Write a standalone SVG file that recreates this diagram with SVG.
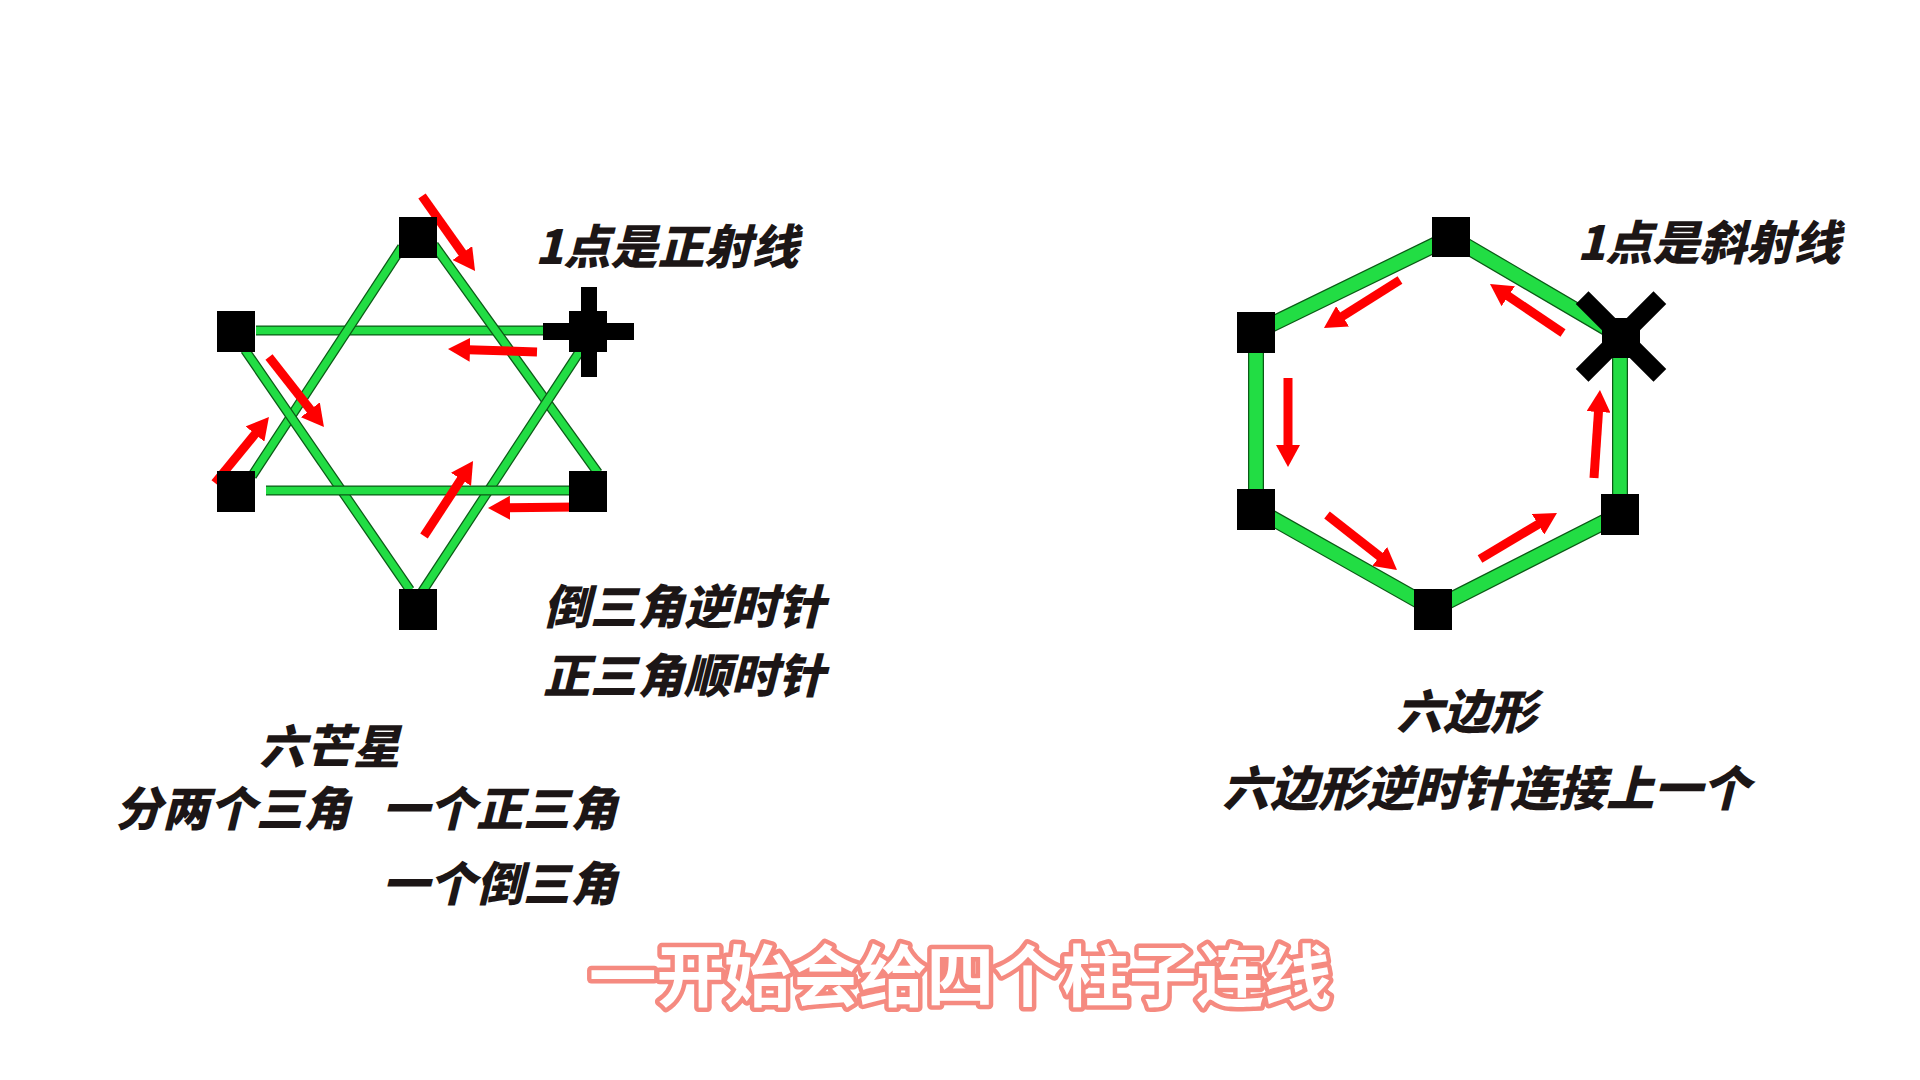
<svg xmlns="http://www.w3.org/2000/svg" width="1920" height="1080" viewBox="0 0 1920 1080">
<defs>
<marker id="ah" viewBox="0 0 22 24" markerUnits="userSpaceOnUse" markerWidth="22" markerHeight="24" refX="2" refY="12" orient="auto">
<path d="M0,0 L22,12 L0,24 z" fill="#ff0000"/>
</marker>
<style>
.gs{stroke:#0b5a16;stroke-width:10;fill:none}
.g{stroke:#22dd44;stroke-width:7.5;fill:none}
.hs{stroke:#0b5a16;stroke-width:16;fill:none}
.h{stroke:#22dd44;stroke-width:13.5;fill:none}
.arr{stroke:#ff0000;stroke-width:9;fill:none;marker-end:url(#ah)}
.sq{fill:#000}
.t{font-family:"Noto Sans CJK SC","Noto Sans",sans-serif;font-weight:900;font-style:italic;font-size:47px;fill:#1c1616}
.t48{font-size:48px}
.sub{font-family:"Noto Sans CJK SC","Noto Sans",sans-serif;font-weight:bold;font-size:67.5px;fill:#ffffff;stroke:#f58a80;stroke-width:9;stroke-linejoin:round;paint-order:stroke}
</style>
</defs>
<rect width="1920" height="1080" fill="#ffffff"/>

<g id="connectors">
<!-- star lines -->
<line class="gs" x1="256" y1="330.5" x2="545" y2="330.5"/><line class="g" x1="256" y1="330.5" x2="545" y2="330.5"/>
<line class="gs" x1="402" y1="247" x2="252" y2="476"/><line class="g" x1="402" y1="247" x2="252" y2="476"/>
<line class="gs" x1="434" y1="245" x2="598" y2="473"/><line class="g" x1="434" y1="245" x2="598" y2="473"/>
<line class="gs" x1="245" y1="350" x2="410" y2="590"/><line class="g" x1="245" y1="350" x2="410" y2="590"/>
<line class="gs" x1="582" y1="348" x2="422" y2="592"/><line class="g" x1="582" y1="348" x2="422" y2="592"/>
<line class="gs" x1="266" y1="490.5" x2="570" y2="490.5"/><line class="g" x1="266" y1="490.5" x2="570" y2="490.5"/>
<!-- hexagon edges -->
<polygon class="hs" points="1451,237 1256,332 1256,509 1433,609 1620,514 1620,336"/>
<polygon class="h" points="1451,237 1256,332 1256,509 1433,609 1620,514 1620,336"/>
<!-- star arrows -->
<line class="arr" x1="422" y1="196" x2="463.5" y2="254.7"/>
<line class="arr" x1="269" y1="357" x2="311.6" y2="411.3"/>
<line class="arr" x1="215" y1="483" x2="256.3" y2="432.5"/>
<line class="arr" x1="537" y1="352" x2="468" y2="349.7"/>
<line class="arr" x1="424" y1="536" x2="462.1" y2="477.7"/>
<line class="arr" x1="577" y1="507" x2="508" y2="507.8"/>
<!-- hexagon arrows -->
<line class="arr" x1="1400" y1="280" x2="1340.9" y2="317.3"/>
<line class="arr" x1="1288" y1="378" x2="1288" y2="447"/>
<line class="arr" x1="1327" y1="515" x2="1381.3" y2="557.6"/>
<line class="arr" x1="1480" y1="559" x2="1539.8" y2="523.3"/>
<line class="arr" x1="1594" y1="478" x2="1598.6" y2="410"/>
<line class="arr" x1="1563" y1="333" x2="1506.6" y2="295.1"/>
</g>

<g id="star-top"><rect class="sq" x="399" y="217" width="38" height="41"/></g>
<g id="star-left-upper"><rect class="sq" x="217" y="311" width="38" height="41"/></g>
<g id="star-left-lower"><rect class="sq" x="217" y="471" width="38" height="41"/></g>
<g id="star-right-lower"><rect class="sq" x="569" y="471" width="38" height="41"/></g>
<g id="star-bottom"><rect class="sq" x="399" y="589" width="38" height="41"/></g>
<g id="star-plus">
<rect class="sq" x="569" y="311" width="38" height="41"/>
<rect class="sq" x="581" y="287" width="16" height="90"/>
<rect class="sq" x="543" y="323" width="91" height="17"/>
</g>

<g id="hex-top"><rect class="sq" x="1432" y="217" width="38" height="40"/></g>
<g id="hex-left-upper"><rect class="sq" x="1237" y="312" width="38" height="41"/></g>
<g id="hex-left-lower"><rect class="sq" x="1237" y="489" width="38" height="41"/></g>
<g id="hex-bottom"><rect class="sq" x="1414" y="589" width="38" height="41"/></g>
<g id="hex-right-lower"><rect class="sq" x="1601" y="494" width="38" height="41"/></g>
<g id="hex-x">
<rect class="sq" x="1602" y="318" width="38" height="40"/>
<rect class="sq" x="1566" y="327.5" width="110" height="18" transform="rotate(45 1621 336.5)"/>
<rect class="sq" x="1566" y="327.5" width="110" height="18" transform="rotate(-45 1621 336.5)"/>
</g>

<g id="labels">
<text class="t" x="535" y="264">1点是正射线</text>
<text class="t" x="543" y="624">倒三角逆时针</text>
<text class="t" x="543" y="693">正三角顺时针</text>
<text class="t" x="259" y="764">六芒星</text>
<text class="t" x="115" y="826">分两个三角</text>
<text class="t" x="382" y="826">一个正三角</text>
<text class="t" x="382" y="901">一个倒三角</text>
<text class="t" x="1396" y="729">六边形</text>
<text class="t t48" x="1222" y="806">六边形逆时针连接上一个</text>
<text class="t" x="1577" y="260">1点是斜射线</text>
<text class="sub" x="589" y="1001">一开始会给四个柱子连线</text>
</g>
</svg>
